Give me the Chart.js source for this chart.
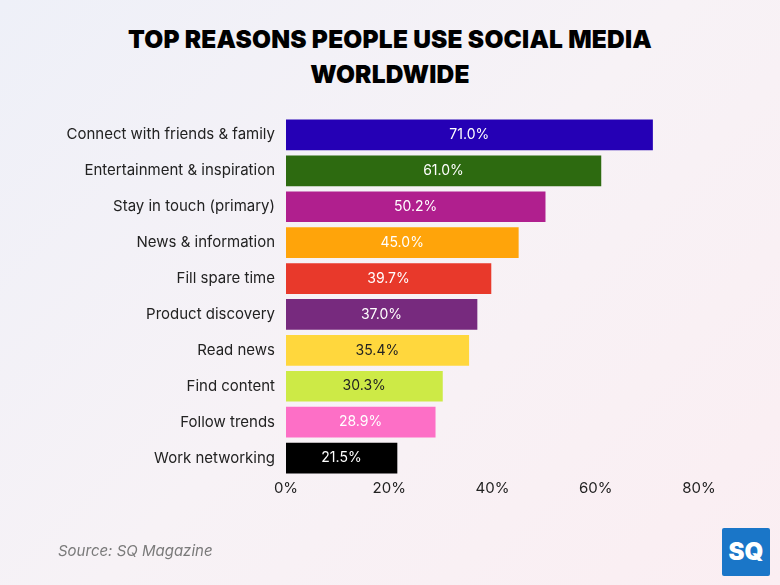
<!DOCTYPE html>
<html>
<head>
<meta charset="utf-8">
<script src="https://cdn.jsdelivr.net/npm/chart.js@4"></script>
<style>
  html, body { margin: 0; padding: 0; }
  body { width: 780px; height: 585px; position: relative; overflow: hidden;
    background: linear-gradient(135deg, #eef0f8 0%, #f7f2f6 50%, #fbeef2 100%);
    font-family: "Inter", "Noto Sans", sans-serif; }
  #title { position: absolute; top: 22px; left: 0; width: 780px; text-align: center;
    font-family: "Inter", sans-serif; font-weight: 900; font-size: 24.5px; line-height: 35px;
    color: #000; letter-spacing: 0.2px; }
  #source { position: absolute; left: 58px; top: 541px; font-style: italic; font-size: 15px; color: #7a7a7a; }
  #logo { position: absolute; left: 722px; top: 528px; width: 48px; height: 48px; background: #1a76c8;
    color: #fff; font-weight: 900; font-size: 24px; line-height: 48px; text-align: center; border-radius: 2px; }
  canvas { position: absolute; left: 0; top: 0; }
</style>
</head>
<body>
<div id="title">TOP REASONS PEOPLE USE SOCIAL MEDIA<br>WORLDWIDE</div>
<canvas id="c" width="780" height="585"></canvas>
<div id="source">Source: SQ Magazine</div>
<div id="logo">SQ</div>
<script>
// --- DATA ---
const reasons = ['Connect with friends & family', 'Entertainment & inspiration', 'Stay in touch (primary)',
  'News & information', 'Fill spare time', 'Product discovery', 'Read news', 'Find content',
  'Follow trends', 'Work networking'];
const shares = [71.0, 61.0, 50.2, 45.0, 39.7, 37.0, 35.4, 30.3, 28.9, 21.5];
const barColors = ['#2500b5', '#2d6a10', '#b01f8e', '#ffa40a', '#e8392b', '#772a7e', '#ffd73d', '#cdea46', '#fd6fc6', '#000000'];
const labelColors = ['#fff', '#fff', '#fff', '#fff', '#fff', '#fff', '#222', '#222', '#fff', '#fff'];
const xTicks = [0, 20, 40, 60, 80];

// draws the value inside each bar
const valueLabels = {
    id: 'valueLabels',
    afterDatasetsDraw(chart) {
        const ctx = chart.ctx;
        const meta = chart.getDatasetMeta(0);
        ctx.save();
        ctx.font = '14px Inter, "Noto Sans", sans-serif';
        ctx.textAlign = 'center';
        ctx.textBaseline = 'middle';
        meta.data.forEach((bar, i) => {
            ctx.fillStyle = labelColors[i];
            ctx.fillText(shares[i].toFixed(1) + '%', (bar.base + bar.x) / 2, bar.y);
        });
        ctx.restore();
    }
};

new Chart(document.getElementById('c'), {
    type: 'bar',
    data: {
        labels: reasons,
        datasets: [{ data: shares, backgroundColor: barColors, barThickness: 30 }]
    },
    options: {
        indexAxis: 'y',
        responsive: false,
        animation: false,
        layout: { padding: { left: 0, right: 81, top: 117, bottom: 79 } },
        plugins: { legend: { display: false }, tooltip: { enabled: false } },
        scales: {
            x: {
                min: 0, max: 80,
                afterBuildTicks: s => { s.ticks = xTicks.map(v => ({ value: v })); },
                afterFit: s => { s.height = 30; },
                grid: { display: false, drawTicks: false }, border: { display: false },
                ticks: { color: '#222', font: { size: 15, family: 'Inter' }, padding: 3, callback: v => v + '%' }
            },
            y: {
                afterFit: s => { s.width = 286; },
                grid: { display: false, drawTicks: false }, border: { display: false },
                ticks: { color: '#222', font: { size: 15, family: 'Inter' }, padding: 11 }
            }
        }
    },
    plugins: [valueLabels]
});
</script>
</body>
</html>
